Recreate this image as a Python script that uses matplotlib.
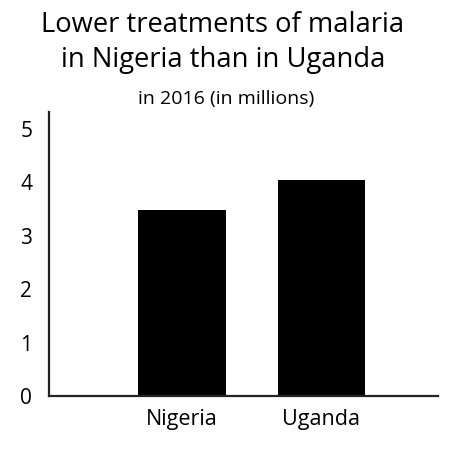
import matplotlib
matplotlib.use("Agg")
import matplotlib.pyplot as plt

categories = ["Nigeria", "Uganda"]
values = [3.48, 4.04]
yticks = [0, 1, 2, 3, 4, 5]
title_lines = ["Lower treatments of malaria", "in Nigeria than in Uganda"]
subtitle = "in 2016 (in millions)"

plt.rcParams['font.family'] = ['Open Sans', 'DejaVu Sans']

fig = plt.figure(figsize=(4.74, 4.50), dpi=100)
ax = fig.add_axes([49/474, 1-396/450, (438-49)/474, (396-112)/450])

pos = list(range(len(categories)))
ax.bar(pos, values, width=0.63, color="black")
ax.set_xlim(-0.953, 1.835)
ax.set_ylim(0, 5.32)
ax.set_xticks(pos)
ax.set_xticklabels(categories, fontsize=15.5)
ax.set_yticks(yticks)
ax.set_yticklabels([str(v) for v in yticks], fontsize=15)
ax.tick_params(axis='both', length=0)
ax.tick_params(axis='x', pad=9)
ax.tick_params(axis='y', pad=12)
for s in ["top", "right"]:
    ax.spines[s].set_visible(False)
for s in ["left", "bottom"]:
    ax.spines[s].set_linewidth(1.6)
    ax.spines[s].set_color("#222222")

cx = 223/474
fig.text(cx, 1-32/450, title_lines[0], ha='center', va='baseline', fontsize=19.7)
fig.text(cx, 1-67/450, title_lines[1], ha='center', va='baseline', fontsize=19.7)
fig.text(226/474, 1-104/450, subtitle, ha='center', va='baseline', fontsize=14)

fig.savefig("out.png", dpi=100)
